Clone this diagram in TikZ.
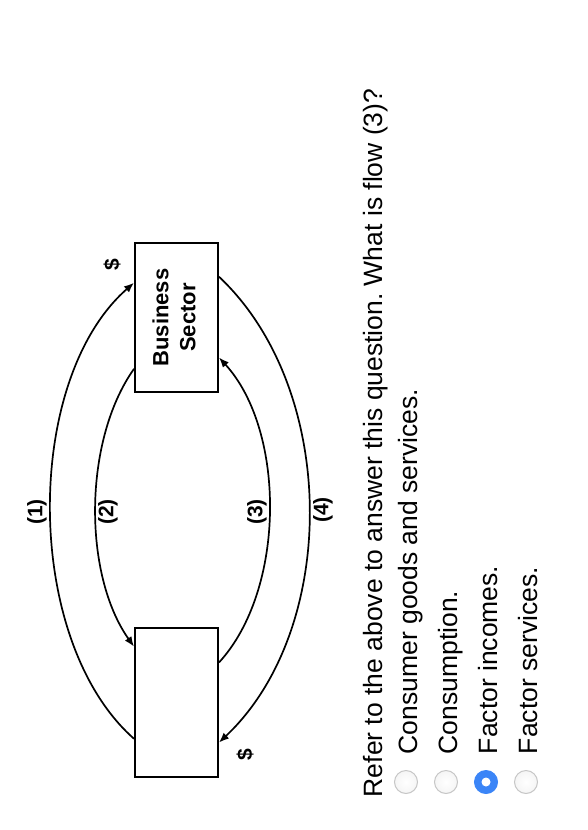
\documentclass[tikz,border=0pt]{standalone}
\usepackage{fontspec}
\setmainfont{Liberation Sans}
\usepackage{graphicx}
\usetikzlibrary{calc,arrows.meta}
\definecolor{selblue}{RGB}{59,133,247}
\frenchspacing

\begin{document}
\begin{tikzpicture}[x=1pt, y=-1pt, >={Latex[length=10pt,width=8pt]}, line width=1.7pt,
    sector/.style={draw, line width=2pt, minimum width=83pt, minimum height=149pt, inner sep=0pt},
    flowlabel/.style={font=\fontsize{21}{23}\selectfont\bfseries, rotate=90, inner sep=0pt},
    answer/.style={font=\fontsize{26.5}{30}\selectfont, rotate=90, anchor=base west, inner sep=0pt},
    radio/.style={circle, draw=gray!45, line width=1pt, inner color=white, outer color=gray!8, minimum size=23pt, inner sep=0pt}]
        \useasboundingbox (0,0) rectangle (588,830);

        \node[sector] (business) at (176.5,317.5)
            {\rotatebox{90}{\fontsize{22}{27}\selectfont\bfseries\begin{tabular}{@{}c@{}}Business\\Sector\end{tabular}}};
        \node[sector] (household) at (176.5,702.5) {};

        \coordinate (b1) at ($(business.north west)!0.27!(business.south west)$);
        \coordinate (b2) at ($(business.north west)!0.84!(business.south west)$);
        \coordinate (b3) at ($(business.north east)!0.765!(business.south east)$);
        \coordinate (b4) at ($(business.north east)!0.23!(business.south east)$);
        \coordinate (h1) at ($(household.north west)!0.74!(household.south west)$);
        \coordinate (h2) at ($(household.north west)!0.13!(household.south west)$);
        \coordinate (h3) at ($(household.north east)!0.235!(household.south east)$);
        \coordinate (h4) at ($(household.north east)!0.765!(household.south east)$);

        \draw[->] (h1) .. controls +(-111,-98) and +(-111,97) .. (b1);
        \draw[->] (b2) .. controls +(-51,72) and +(-51,-72) .. (h2);
        \draw[->] (h3) .. controls +(67,-73) and +(67,73) .. (b3);
        \draw[->] (b4) .. controls +(120,113) and +(120,-113) .. (h4);

        \node[flowlabel] (l1) at (37,512) {(1)};
        \node[flowlabel] (l2) at (108,512) {(2)};
        \node[flowlabel] (l3) at (257,512) {(3)};
        \node[flowlabel] (l4) at (323,510) {(4)};
        \node[flowlabel] (d1) at (112,265) {\$};
        \node[flowlabel] (d2) at (245,755) {\$};

        \node[answer] (question) at (382,798) {Refer to the above to answer this question. What is flow (3)?};
        \node[answer] (opt1) at (417,755) {Consumer goods and services.};
        \node[answer] (opt2) at (457,755) {Consumption.};
        \node[answer] (opt3) at (497,755) {Factor incomes.};
        \node[answer] (opt4) at (537,755) {Factor services.};

        \node[radio] (r1) at (406,782) {};
        \node[radio] (r2) at (446,782) {};
        \node[radio, draw=selblue, inner color=selblue, outer color=selblue] (r3) at (486,782) {};
        \fill[white] (r3) circle (4.5);
        \node[radio] (r4) at (526,782) {};
    \end{tikzpicture}
\end{document}
